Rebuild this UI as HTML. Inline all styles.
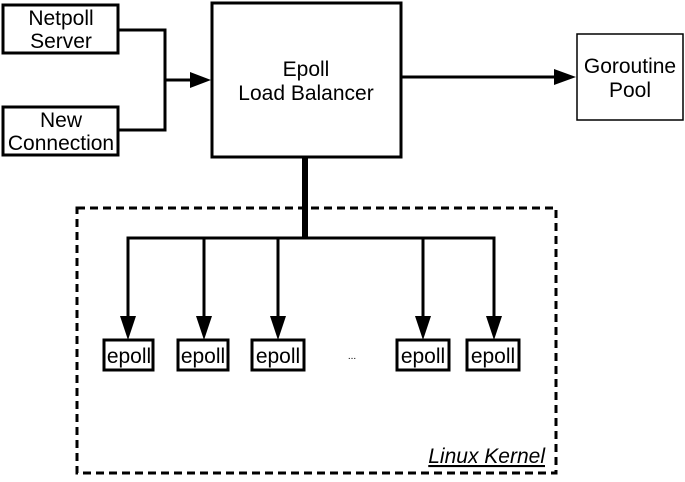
<!DOCTYPE html>
<html><head><style>body{margin:0;background:#fff}</style></head><body>
<svg width="685" height="477" xmlns="http://www.w3.org/2000/svg" font-family="Liberation Sans, sans-serif" fill="none" stroke="#000">
<rect x="0" y="0" width="685" height="477" fill="#fff" stroke="none"/>
<rect x="3" y="5" width="115" height="48" stroke-width="3"/>
<rect x="3" y="107" width="115" height="48" stroke-width="3"/>
<rect x="212" y="3" width="189" height="154" stroke-width="3"/>
<rect x="577" y="34" width="106" height="86" stroke-width="1.5"/>
<polyline points="118,30 165,30 165,130 118,130" stroke-width="3"/>
<line x1="165" y1="80" x2="192" y2="80" stroke-width="3"/>
<polygon points="190,72 211,80 190,88" fill="#000" stroke="none"/>
<line x1="401" y1="77" x2="555" y2="77" stroke-width="3"/>
<polygon points="554,69 576,77 554,85" fill="#000" stroke="none"/>
<line x1="305" y1="157" x2="305" y2="239" stroke-width="6"/>
<rect x="77" y="208" width="479" height="265" stroke-width="3" stroke-dasharray="8,5"/>
<polyline points="128,320 128,238 494,238 494,320" stroke-width="3" fill="none"/>
<g stroke-width="3">
<line x1="204" y1="238" x2="204" y2="320"/><line x1="278" y1="238" x2="278" y2="320"/><line x1="423" y1="238" x2="423" y2="320"/>
</g>
<g fill="#000" stroke="none">
<polygon points="120,316 136,316 128,340"/><polygon points="196,316 212,316 204,340"/><polygon points="270,316 286,316 278,340"/><polygon points="415,316 431,316 423,340"/><polygon points="486,316 502,316 494,340"/>
</g>
<g stroke-width="3" fill="#fff">
<rect x="104" y="340" width="49" height="30"/><rect x="178" y="340" width="50" height="30"/><rect x="252" y="340" width="52" height="30"/><rect x="397" y="340" width="52" height="30"/><rect x="467" y="340" width="52" height="30"/>
</g>
<g fill="#000" stroke="none" font-size="21" text-anchor="middle">
<text x="61" y="25">Netpoll</text><text x="61" y="48">Server</text>
<text x="61" y="127">New</text><text x="61" y="150">Connection</text>
<text x="306" y="76">Epoll</text><text x="306" y="100">Load Balancer</text>
<text x="630" y="73">Goroutine</text><text x="630" y="97">Pool</text>
<text x="129" y="363">epoll</text><text x="203" y="363">epoll</text><text x="278" y="363">epoll</text><text x="423" y="363">epoll</text><text x="493" y="363">epoll</text>
<text x="352" y="359" font-size="10">...</text>
<text x="545" y="463" text-anchor="end" font-style="italic" text-decoration="underline">Linux Kernel</text>
</g>
</svg>
</body></html>
